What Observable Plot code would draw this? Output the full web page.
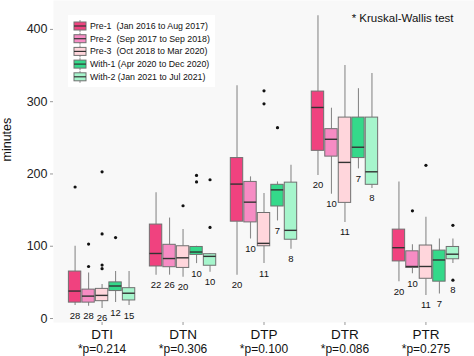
<!DOCTYPE html>
<html>
<head>
<meta charset="utf-8">
<script src="https://cdn.jsdelivr.net/npm/d3@7"></script>
<script src="https://cdn.jsdelivr.net/npm/@observablehq/plot@0.6"></script>
<style>
  body { margin: 0; background: #fff; }
  #wrap { position: relative; width: 474px; height: 356px; font-family: "Liberation Sans", Arial, sans-serif; }
  #legend { position: absolute; left: 68px; top: 15px; width: 147px; height: 72px; background: #fff; }
  #legend svg { display: block; }
</style>
</head>
<body>
<div id="wrap"><div id="legend"></div></div>
<script>
const categories = ["DTI", "DTN", "DTP", "DTR", "PTR"];
const pValues = ["*p=0.214", "*p=0.306", "*p=0.100", "*p=0.086", "*p=0.275"];
const groups = ["Pre-1", "Pre-2", "Pre-3", "With-1", "With-2"];
const groupLabels = [
  "Pre-1  (Jan 2016 to Aug 2017)",
  "Pre-2  (Sep 2017 to Sep 2018)",
  "Pre-3  (Oct 2018 to Mar 2020)",
  "With-1 (Apr 2020 to Dec 2020)",
  "With-2 (Jan 2021 to Jul 2021)"
];
const colors = ["#F0427F", "#F68CC4", "#FFD6DC", "#34D98A", "#A6F5CC"];

// rows: categories, columns: groups (Pre-1, Pre-2, Pre-3, With-1, With-2)
const whiskerLow = [
  [18, 17, 14, 22, 18],
  [60, 60, 57, 76, 64],
  [60, 110, 76, 135, 96],
  [198, 172, 133, 207, 180],
  [51, 62, 32, 34, 76]
];
const q1 = [
  [22, 22, 24, 38, 25],
  [72, 71, 70, 88, 73],
  [134, 133, 100, 155, 109],
  [232, 224, 160, 222, 185],
  [79, 70, 55, 51, 82]
];
const medians = [
  [38, 31, 32, 45, 35],
  [90, 83, 84, 92, 86],
  [186, 161, 104, 178, 122],
  [292, 248, 216, 237, 203],
  [98, 72, 72, 81, 89]
];
const q3 = [
  [65, 40, 41, 50, 42],
  [130, 102, 100, 99, 89],
  [222, 189, 146, 185, 188],
  [314, 262, 278, 278, 278],
  [123, 93, 101, 94, 99]
];
const whiskerHigh = [
  [100, 63, 47, 65, 65],
  [174, 139, 123, 100, 90],
  [322, 196, 173, 189, 212],
  [419, 291, 350, 318, 339],
  [189, 102, 140, 110, 110]
];
const counts = [
  [28, 28, 26, 12, 15],
  [22, 26, 20, 10, 10],
  [20, 10, 11, 7, 8],
  [20, 10, 11, 7, 8],
  [20, 10, 11, 7, 8]
];
// outliers: [category, group, value]
const outliers = [
  ["DTI", "Pre-1", 182], ["DTI", "Pre-2", 103], ["DTI", "Pre-2", 72],
  ["DTI", "Pre-3", 203], ["DTI", "Pre-3", 117], ["DTI", "Pre-3", 74], ["DTI", "Pre-3", 69],
  ["DTI", "With-1", 112],
  ["DTN", "Pre-3", 156], ["DTN", "With-1", 198], ["DTN", "With-1", 189],
  ["DTN", "With-2", 192], ["DTN", "With-2", 126],
  ["DTP", "Pre-3", 315], ["DTP", "Pre-3", 297], ["DTP", "With-1", 264],
  ["PTR", "Pre-2", 149], ["PTR", "Pre-3", 212], ["PTR", "With-2", 129], ["PTR", "With-2", 53]
];

// dodge layout (ggplot-like): category at 1..5, groups spread within
const dodge = 1 / 6;
const halfBox = 0.0765;
const posOf = (cat, group) => categories.indexOf(cat) + 1 + (groups.indexOf(group) - 2) * dodge;

const rows = [];
categories.forEach((cat, ci) => {
  groups.forEach((g, gi) => {
    const outs = outliers.filter(o => o[0] === cat && o[1] === g).map(o => o[2]);
    rows.push({
      cat, group: g, x: posOf(cat, g),
      lo: whiskerLow[ci][gi], q1: q1[ci][gi], med: medians[ci][gi],
      q3: q3[ci][gi], hi: whiskerHigh[ci][gi], n: counts[ci][gi],
      minVal: Math.min(whiskerLow[ci][gi], ...outs)
    });
  });
});
const outRows = outliers.map(([cat, group, v]) => ({x: posOf(cat, group), v}));
const catRows = categories.map((c, i) => ({x: i + 1, label: c, p: pValues[i]}));

const font = "Liberation Sans, Arial, sans-serif";

const chart = Plot.plot({
  width: 474,
  height: 356,
  marginTop: 0,
  marginBottom: 34,
  marginLeft: 53,
  marginRight: 0,
  style: {fontFamily: font, color: "#222", background: "#fff"},
  x: {domain: [0.4, 5.6], axis: null},
  y: {domain: [-5.5, 440], axis: null},
  color: {domain: groups, range: colors},
  marks: [
    Plot.frame({fill: "#F8F8F8", stroke: "none"}),
    Plot.axisY({ticks: [0, 100, 200, 300, 400], tickSize: 3, tickPadding: 3, fontSize: 12.5, label: null, stroke: "#999", color: "#222"}),
    Plot.axisX({ticks: catRows.map(d => d.x), tickFormat: (d) => categories[d - 1], tickSize: 3, tickPadding: 4, fontSize: 13.5, label: null, stroke: "#999", color: "#111"}),
    Plot.text(catRows, {x: "x", text: "p", frameAnchor: "bottom", lineAnchor: "top", dy: 22, fontSize: 12, fill: "#111"}),
    Plot.text(["minutes"], {frameAnchor: "left", dx: -47, rotate: -90, fontSize: 12.5, fill: "#111"}),
    Plot.text(["* Kruskal-Wallis test"], {frameAnchor: "top-right", textAnchor: "end", lineAnchor: "top", dx: -21, dy: 13, fontSize: 11.5, fill: "#111"}),
    Plot.ruleX(rows, {x: "x", y1: "lo", y2: "q1", stroke: "#8a8a8a", strokeWidth: 1.1}),
    Plot.ruleX(rows, {x: "x", y1: "q3", y2: "hi", stroke: "#8a8a8a", strokeWidth: 1.1}),
    Plot.rect(rows, {x1: d => d.x - halfBox, x2: d => d.x + halfBox, y1: "q1", y2: "q3", fill: "group", stroke: "#707070", strokeWidth: 1}),
    Plot.ruleY(rows, {x1: d => d.x - halfBox, x2: d => d.x + halfBox, y: "med", stroke: "#333", strokeWidth: 1.4}),
    Plot.dot(outRows, {x: "x", y: "v", r: 1.6, fill: "#111", stroke: "none"}),
    Plot.text(rows, {x: "x", y: "minVal", text: "n", dy: 10, fontSize: 9.5, fill: "#111"})
  ]
});
document.getElementById("wrap").prepend(chart);

// legend
const leg = d3.select("#legend").append("svg").attr("width", 147).attr("height", 72);
groupLabels.forEach((lab, i) => {
  const cy = 11 + i * 12.7;
  const g = leg.append("g");
  g.append("line").attr("x1", 12).attr("x2", 12).attr("y1", cy - 6).attr("y2", cy + 6).attr("stroke", "#8a8a8a");
  g.append("rect").attr("x", 6).attr("y", cy - 4).attr("width", 12).attr("height", 8).attr("fill", colors[i]).attr("stroke", "#707070");
  g.append("line").attr("x1", 6).attr("x2", 18).attr("y1", cy).attr("y2", cy).attr("stroke", "#333").attr("stroke-width", 1.2);
  g.append("text").attr("x", 22).attr("y", cy).attr("dy", "0.35em").attr("font-size", 8.8).attr("font-family", font).attr("fill", "#111").attr("xml:space", "preserve").style("white-space", "pre").text(lab);
});
</script>
</body>
</html>
